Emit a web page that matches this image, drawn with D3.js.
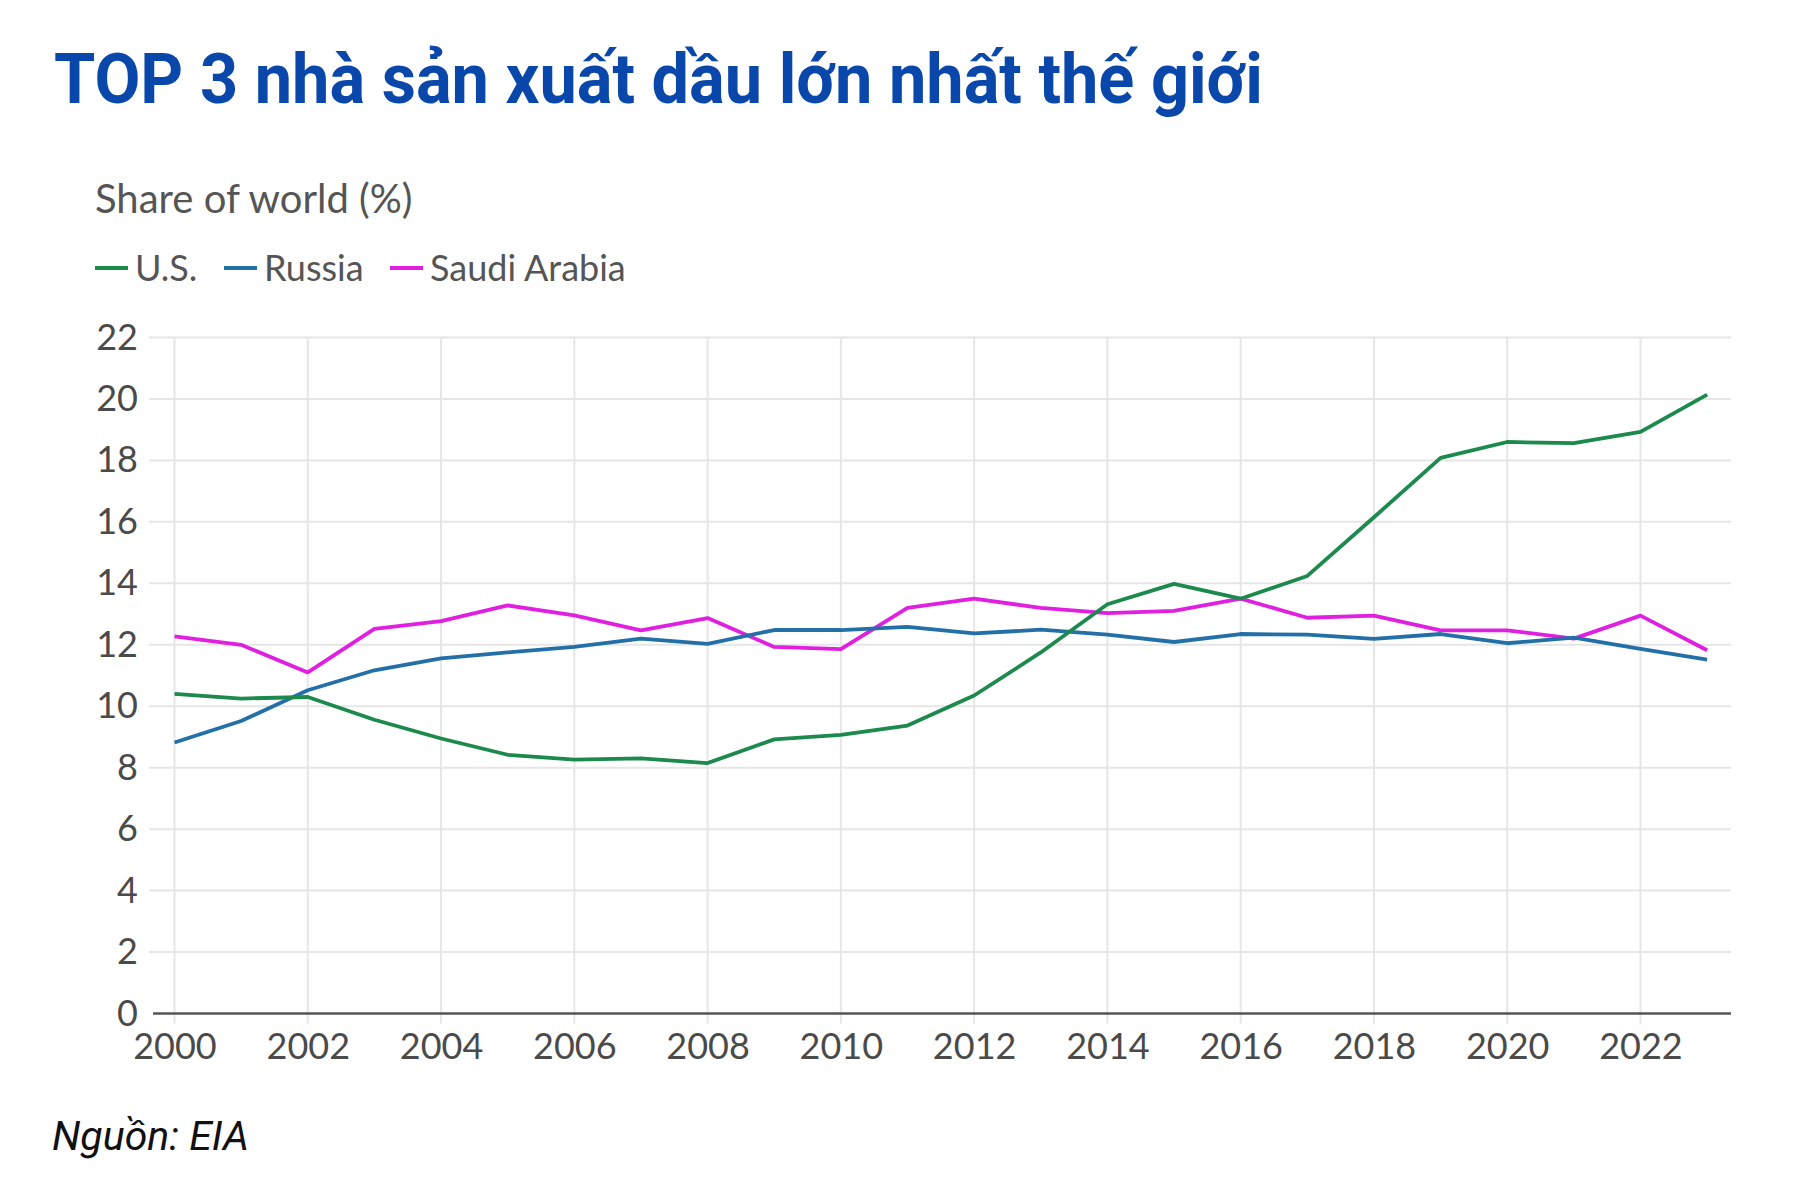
<!DOCTYPE html>
<html>
<head>
<meta charset="utf-8">
<script src="https://d3js.org/d3.v7.min.js"></script>
<style>
  body { margin: 0; background: #fff; }
  svg { display: block; }
</style>
</head>
<body>
<svg id="chart" width="1800" height="1200"></svg>
<script>
// data
var years = d3.range(2000, 2024);
var usShare = [10.4, 10.25, 10.3, 9.56, 8.95, 8.42, 8.26, 8.3, 8.15, 8.92, 9.07, 9.37, 10.35, 11.75, 13.32, 13.98, 13.5, 14.24, 16.15, 18.08, 18.6, 18.56, 18.93, 20.14];
var russiaShare = [8.82, 9.52, 10.52, 11.17, 11.56, 11.75, 11.93, 12.2, 12.03, 12.48, 12.48, 12.58, 12.37, 12.49, 12.33, 12.09, 12.35, 12.33, 12.19, 12.35, 12.05, 12.23, 11.87, 11.52];
var saudiShare = [12.27, 12.0, 11.1, 12.52, 12.77, 13.28, 12.96, 12.47, 12.87, 11.93, 11.86, 13.2, 13.5, 13.2, 13.03, 13.1, 13.5, 12.88, 12.95, 12.47, 12.47, 12.2, 12.95, 11.82];
var seriesNames = ["U.S.", "Russia", "Saudi Arabia"];
var seriesColors = ["#1b8a4c", "#2370a8", "#e01fe0"];
var yTicks = [0, 2, 4, 6, 8, 10, 12, 14, 16, 18, 20, 22];
var xTicks = [2000, 2002, 2004, 2006, 2008, 2010, 2012, 2014, 2016, 2018, 2020, 2022];

var svg = d3.select("#chart");

var x = d3.scaleLinear().domain([2000, 2022]).range([174.5, 1640.5]);
var y = d3.scaleLinear().domain([0, 22]).range([1013.5, 337.5]);
var left = 149, right = 1731;

// title
svg.append("text")
    .attr("x", 54).attr("y", 103)
    .attr("textLength", 1209).attr("lengthAdjust", "spacingAndGlyphs")
    .style("font-family", "Roboto").style("font-weight", 700)
    .style("font-size", "70px").style("fill", "#0a47aa")
    .text("TOP 3 nhà sản xuất dầu lớn nhất thế giới");

svg.append("text")
    .attr("x", 95).attr("y", 213)
    .style("font-family", "Lato").style("font-size", "40px").style("fill", "#555")
    .text("Share of world (%)");

// legend
var legendX = [95, 224, 390];
var legend = svg.selectAll("g.legend").data(seriesNames).enter().append("g")
    .attr("class", "legend")
    .attr("transform", function(d, i) { return "translate(" + legendX[i] + ",268)"; });
legend.append("line")
    .attr("x1", 0).attr("x2", 33).attr("y1", 0).attr("y2", 0)
    .attr("stroke", function(d, i) { return seriesColors[i]; })
    .attr("stroke-width", 4);
legend.append("text")
    .attr("x", 40).attr("y", 13)
    .style("font-family", "Lato").style("font-size", "36px").style("fill", "#555")
    .text(function(d) { return d; });

// gridlines
svg.append("g").selectAll("line").data(yTicks.slice(1)).enter().append("line")
    .attr("x1", left).attr("x2", right)
    .attr("y1", function(d) { return y(d); }).attr("y2", function(d) { return y(d); })
    .attr("stroke", "#e6e6e6").attr("stroke-width", 2);
svg.append("g").selectAll("line").data(xTicks).enter().append("line")
    .attr("x1", function(d) { return x(d); }).attr("x2", function(d) { return x(d); })
    .attr("y1", y(22)).attr("y2", y(0) + 10)
    .attr("stroke", "#e6e6e6").attr("stroke-width", 2);

// axes
var yAxis = svg.append("g")
    .attr("transform", "translate(138,0)")
    .call(d3.axisLeft(y).tickValues(yTicks).tickSize(0).tickPadding(0));
yAxis.select(".domain").remove();
yAxis.selectAll("text")
    .style("font-family", "Lato").style("font-size", "36px").style("fill", "#4a4a4a");

var xAxis = svg.append("g")
    .attr("transform", "translate(0," + y(0) + ")")
    .call(d3.axisBottom(x).tickValues(xTicks).tickFormat(d3.format("d")).tickSize(0).tickPadding(20));
xAxis.select(".domain").remove();
xAxis.selectAll("text")
    .style("font-family", "Lato").style("font-size", "36px").style("fill", "#4a4a4a");

svg.append("line")
    .attr("x1", 153).attr("x2", right).attr("y1", y(0)).attr("y2", y(0))
    .attr("stroke", "#555").attr("stroke-width", 2.5);

// lines
var line = d3.line()
    .x(function(d, i) { return x(years[i]); })
    .y(function(d) { return y(d); });
var allSeries = [usShare, russiaShare, saudiShare];
// draw Saudi and Russia under US as in reference
svg.append("g").selectAll("path").data([2, 1, 0]).enter().append("path")
    .attr("d", function(k) { return line(allSeries[k]); })
    .attr("fill", "none")
    .attr("stroke", function(k) { return seriesColors[k]; })
    .attr("stroke-width", 3.8)
    .attr("stroke-linejoin", "round");

// source
svg.append("text")
    .attr("x", 52).attr("y", 1150)
    .style("font-family", "Roboto").style("font-style", "italic")
    .style("font-size", "41px").style("fill", "#111")
    .text("Nguồn: EIA");
</script>
</body>
</html>
